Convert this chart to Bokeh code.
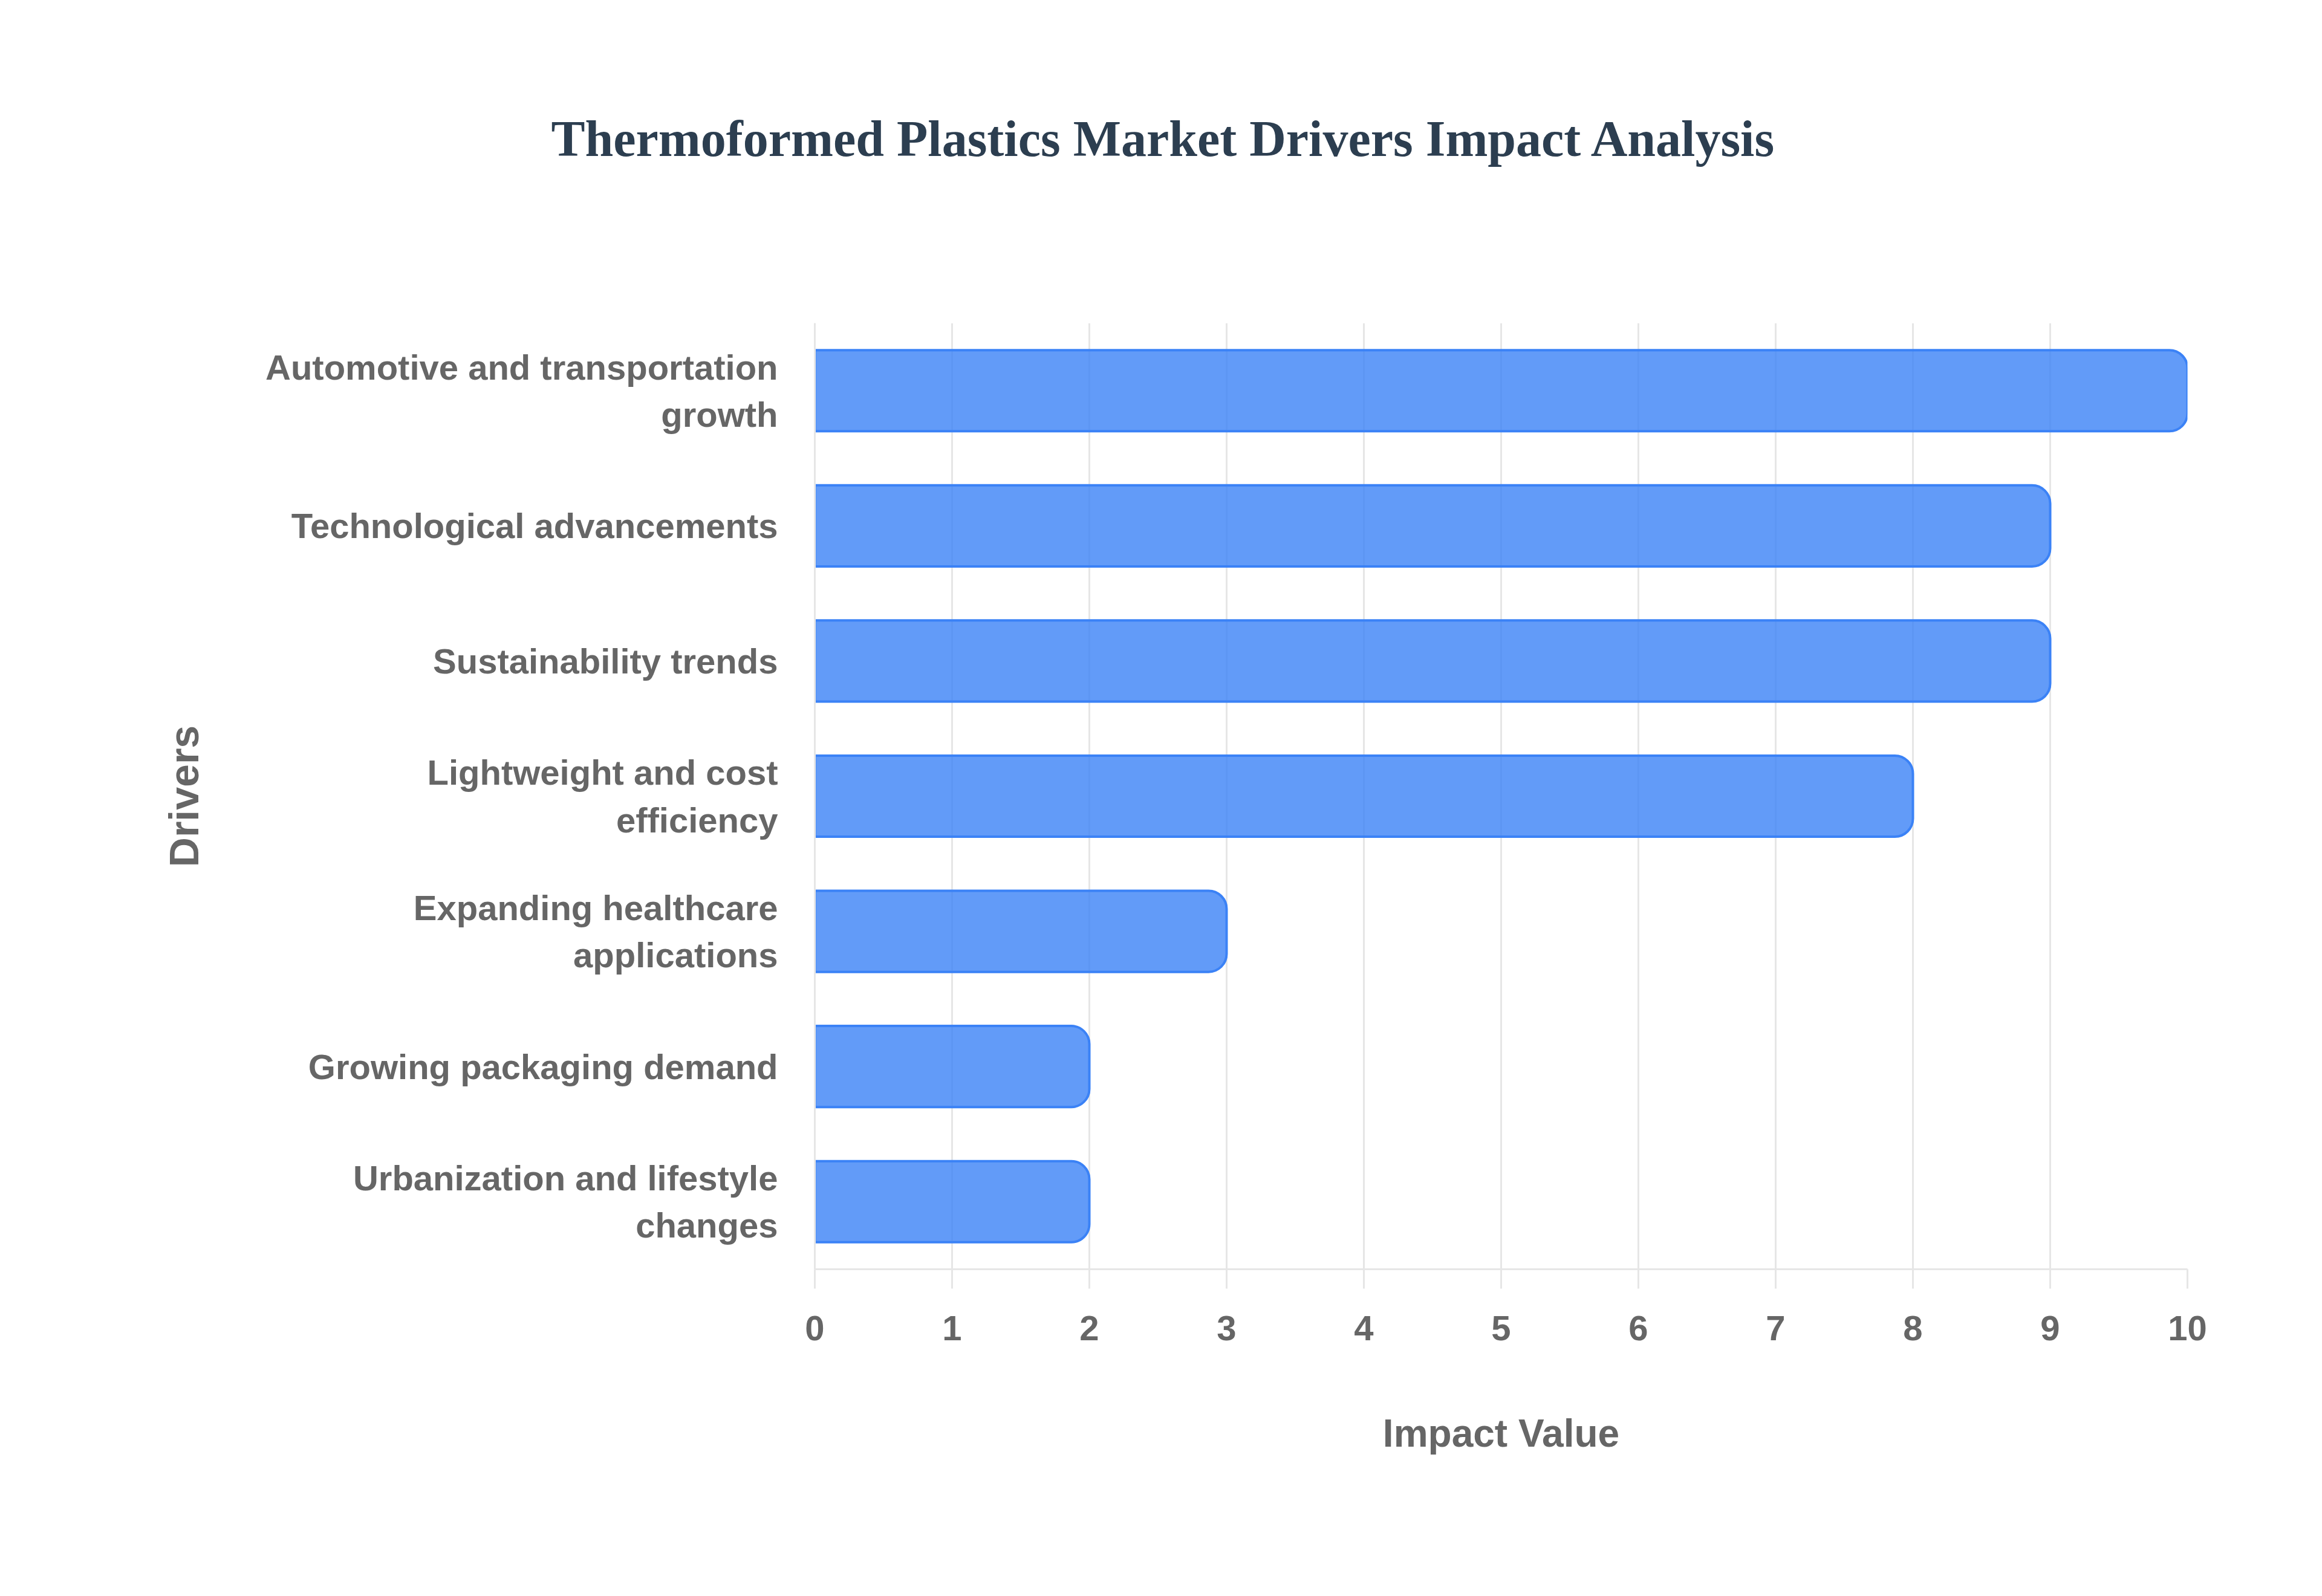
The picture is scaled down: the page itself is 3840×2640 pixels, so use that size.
from bokeh.plotting import figure
from bokeh.models import Range1d, ColumnDataSource, FixedTicker, LinearAxis
from bokeh.embed import file_html
from bokeh.resources import INLINE

drivers = [
    "Automotive and transportation growth",
    "Technological advancements",
    "Sustainability trends",
    "Lightweight and cost efficiency",
    "Expanding healthcare applications",
    "Growing packaging demand",
    "Urbanization and lifestyle changes",
]
label_lines = [
    ["Automotive and transportation", "growth"],
    ["Technological advancements"],
    ["Sustainability trends"],
    ["Lightweight and cost", "efficiency"],
    ["Expanding healthcare", "applications"],
    ["Growing packaging demand"],
    ["Urbanization and lifestyle", "changes"],
]
impact = [10, 9, 9, 8, 3, 2, 2]
x_ticks = [0, 1, 2, 3, 4, 5, 6, 7, 8, 9, 10]

n = len(drivers)
ypos = [n - 0.5 - i for i in range(n)]  # category slots, first on top
src = ColumnDataSource(dict(y=ypos, driver=drivers, impact=impact))

p = figure(
    width=3824, height=2624,
    y_range=Range1d(0, n), x_range=Range1d(0, 10),
    output_backend="svg", toolbar_location=None,
    min_border_left=1347, min_border_right=207,
    min_border_top=534, min_border_bottom=525,
)
p.background_fill_color = "white"
p.border_fill_color = "white"
p.outline_line_color = None

p.title.text = "Thermoformed Plastics Market Drivers Impact Analysis"
p.title.text_font = "Liberation Serif"
p.title.text_font_style = "bold"
p.title.text_font_size = "84px"
p.title.text_color = "#2c3e50"
p.title.align = "left"
p.title.offset = -436
p.title.standoff = 40

# invisible spacer between title and plot area (white tick on white background)
spacer = LinearAxis(ticker=FixedTicker(ticks=[5]), axis_line_color=None,
                    major_tick_line_color="white", major_tick_line_width=1,
                    minor_tick_line_color=None,
                    major_tick_out=239, major_tick_in=0,
                    major_label_standoff=0, major_label_text_font_size="0px",
                    major_label_overrides={5: ""})
p.add_layout(spacer, "above")

p.hbar(y="y", right="impact", left=0, height=0.6, source=src,
       fill_color="#3b82f6", fill_alpha=0.8,
       line_color="#3b82f6", line_width=4,
       border_radius=(0, 30, 30, 0))

GRID = "#e6e6e6"
p.ygrid.grid_line_color = None
p.xgrid.grid_line_color = GRID
p.xgrid.grid_line_width = 3

xa = p.below[0]
xa.ticker = FixedTicker(ticks=x_ticks)
xa.axis_line_color = GRID
xa.axis_line_width = 3
xa.major_tick_line_color = GRID
xa.major_tick_line_width = 3
xa.major_tick_out = 32
xa.major_tick_in = 0
xa.minor_tick_line_color = None
xa.major_label_text_font = "Liberation Sans"
xa.major_label_text_font_style = "bold"
xa.major_label_text_font_size = "58px"
xa.major_label_text_color = "#666666"
xa.major_label_standoff = 45
xa.axis_label = "Impact Value"
xa.axis_label_text_font = "Liberation Sans"
xa.axis_label_text_font_style = "bold"
xa.axis_label_text_font_size = "64px"
xa.axis_label_text_color = "#666666"
xa.axis_label_standoff = 115

# y tick labels: one tick per text line, wrapped labels split around the slot centre
LINE_STEP = 0.175  # half a line, in slot units
tick_vals, overrides = [], {}
for yc, lines in zip(ypos, label_lines):
    k = len(lines)
    for j, line in enumerate(lines):
        v = round(yc + ((k - 1) - 2 * j) * LINE_STEP, 4)
        tick_vals.append(v)
        overrides[v] = line

ya = p.yaxis[0]
ya.ticker = FixedTicker(ticks=sorted(tick_vals))
ya.major_label_overrides = overrides
ya.axis_line_color = GRID
ya.axis_line_width = 3
ya.major_tick_line_color = None
ya.minor_tick_line_color = None
ya.major_tick_in = 0
ya.major_tick_out = 0
ya.major_label_text_font = "Liberation Sans"
ya.major_label_text_font_style = "bold"
ya.major_label_text_font_size = "58px"
ya.major_label_text_color = "#666666"
ya.major_label_standoff = 61
ya.axis_label = "Drivers"
ya.axis_label_text_font = "Liberation Sans"
ya.axis_label_text_font_style = "bold"
ya.axis_label_text_font_size = "68px"
ya.axis_label_text_color = "#666666"
ya.axis_label_standoff = 94

open("out.html", "w").write(file_html(p, INLINE))
